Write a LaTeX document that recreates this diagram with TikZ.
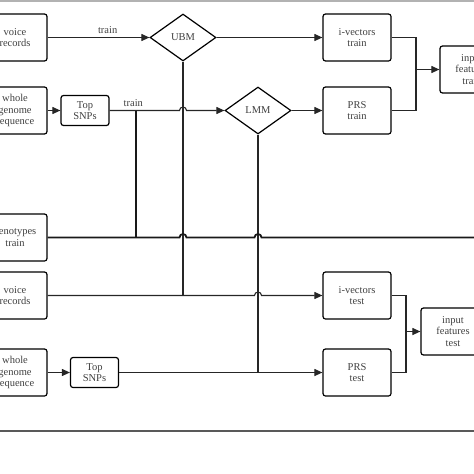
\documentclass[tikz,border=0pt]{standalone}
\usepackage{fontspec}
\setmainfont{Liberation Serif}
\usetikzlibrary{arrows.meta, positioning, shapes.geometric}

\begin{document}
\begin{tikzpicture}[x=1pt, y=-1pt, font=\fontsize{10.5}{11.5}\selectfont,
    box/.style={draw, rectangle, rounded corners=2.5pt, line width=1.2pt, align=center, text=black!75, minimum width=68pt, minimum height=47pt, inner sep=1pt},
    snp/.style={box, minimum width=48pt, minimum height=30pt},
    decide/.style={draw, diamond, line width=1.2pt, text=black!75, aspect=1.4, minimum width=66pt, minimum height=47pt, inner sep=0pt},
    link/.style={line width=1.1pt, black!85},
    heavy/.style={line width=1.8pt, black!90},
    ->/.style={-{Triangle[length=8pt, width=7pt]}}]
            \useasboundingbox (0,0) rectangle (474,474);
            \clip (0,0) rectangle (474,474);
            % page rules
            \path [draw, gray!60, line width=2pt] (0,1) -- (474,1);
            \path [draw, black!65, line width=1.3pt] (0,431) -- (474,431);
            % train branch
            \node[box, minimum width=64pt] (voicetrain) at (15,37.5) {voice\\records};
            \node[box, minimum width=64pt] (genometrain) at (15,110.5) {whole\\genome\\sequence};
            \node[snp] (snptrain) at (85,110.5) {Top\\SNPs};
            \node[decide] (ubm) at (183,37.5) {UBM};
            \node[decide] (lmm) at (258,110.5) {LMM};
            \node[box] (ivtrain) at (357,37.5) {i-vectors\\train};
            \node[box] (prstrain) at (357,110.5) {PRS\\train};
            \node[box, minimum width=64pt] (inputtrain) at (472,69.5) {input\\features\\train};
            \node[box, minimum width=64pt] (genotypes) at (15,237.5) {genotypes\\train};
            % test branch
            \node[box, minimum width=64pt] (voicetest) at (15,295.5) {voice\\records};
            \node[box, minimum width=64pt] (genometest) at (15,372.5) {whole\\genome\\sequence};
            \node[snp] (snptest) at (94.5,372.5) {Top\\SNPs};
            \node[box] (ivtest) at (357,295.5) {i-vectors\\test};
            \node[box] (prstest) at (357,372.5) {PRS\\test};
            \node[box, minimum width=64pt] (inputtest) at (453,331.5) {input\\features\\test};
            \coordinate (jtrain) at (416,69.5);
            \coordinate (jtest) at (406,331.5);
            \coordinate (tap) at (136,110.5);
            \coordinate (genoend) at (480,237.5);

            \path [draw, link, ->] (voicetrain) -- node[above, pos=0.59, text=black!75] {train} (ubm);
            \path [draw, link, ->] (ubm) -- (ivtrain);
            \path [draw, link, ->] (genometrain) -- (snptrain);
            \path [draw, link, ->] (snptrain.east) -- node[above, pos=0.34, text=black!75] {train} (179.5,110.5)
                arc[start angle=180, end angle=0, radius=3.5pt] -- (lmm.west);
            \path [draw, link, ->] (lmm) -- (prstrain);
            \path [draw, link] (ivtrain.east) -| (jtrain);
            \path [draw, link] (prstrain.east) -| (jtrain);
            \path [draw, link, ->] (jtrain) -- (inputtrain);
            \path [draw, link] (ubm.south) -- (ubm.south |- voicetest.east);
            \path [draw, link] (lmm.south) -- (lmm.south |- prstest.west);
            \path [draw, heavy] (tap) -- (tap |- genotypes.east);
            \path [draw, heavy] (genotypes.east) -- (179.5,237.5) arc[start angle=180, end angle=0, radius=3.5pt]
                -- (254.5,237.5) arc[start angle=180, end angle=0, radius=3.5pt] -- (genoend);
            \path [draw, link, ->] (voicetest.east) -- (254.5,295.5) arc[start angle=180, end angle=0, radius=3.5pt] -- (ivtest.west);
            \path [draw, link, ->] (genometest) -- (snptest);
            \path [draw, link, ->] (snptest) -- (prstest);
            \path [draw, link] (ivtest.east) -| (jtest);
            \path [draw, link] (prstest.east) -| (jtest);
            \path [draw, link, ->] (jtest) -- (inputtest);
        \end{tikzpicture}
\end{document}
